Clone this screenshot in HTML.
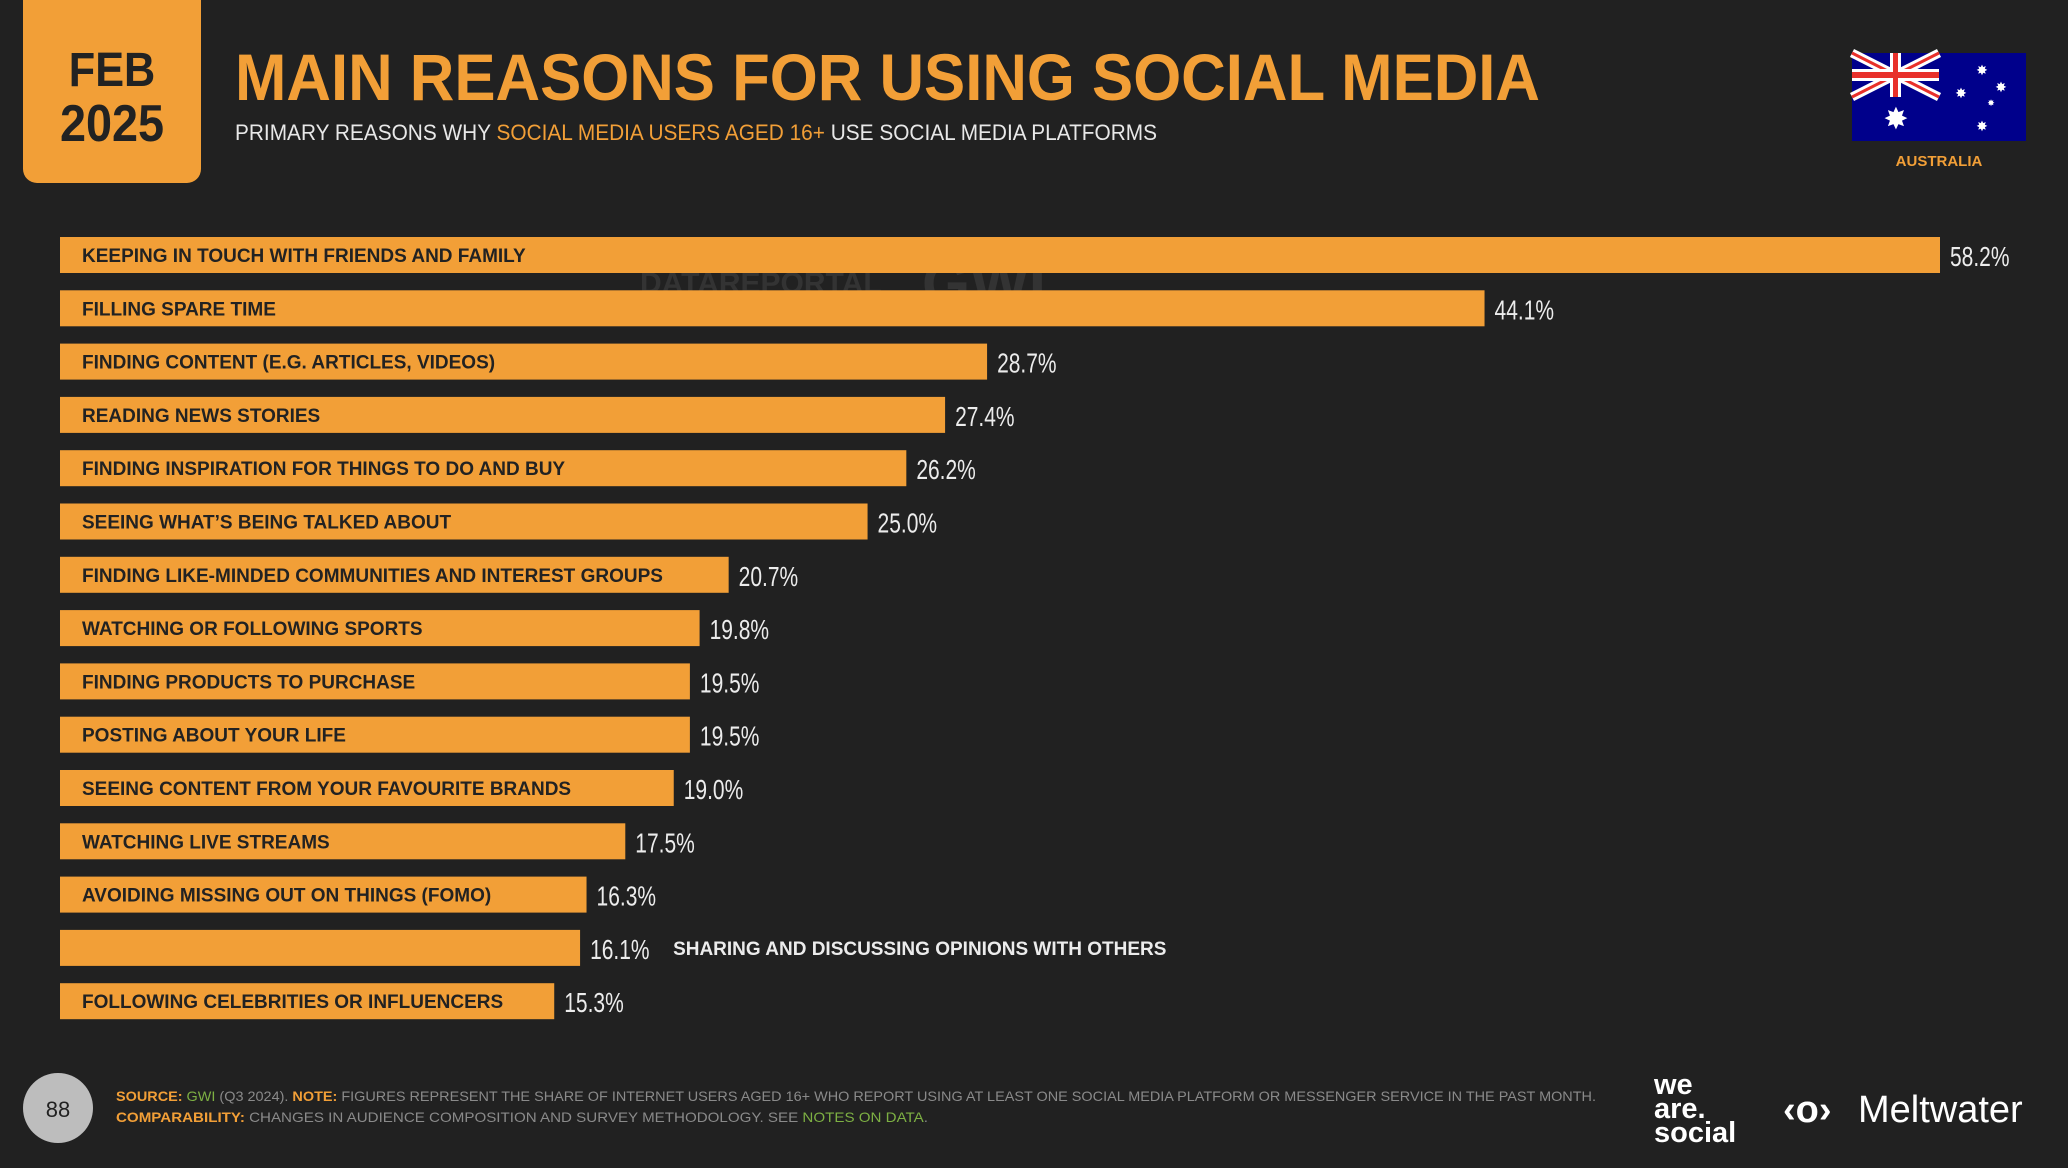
<!DOCTYPE html>
<html><head><meta charset="utf-8">
<style>
html,body{margin:0;padding:0;background:#212121;}
svg{display:block;}
text{font-family:"Liberation Sans",sans-serif;}
</style></head>
<body>
<svg id="chart" width="2068" height="1168" viewBox="0 0 2068 1168" xmlns="http://www.w3.org/2000/svg">
  <rect x="0" y="0" width="2068" height="1168" fill="#212121"/>
  <g>
    <rect x="23" y="-20" width="178" height="203" rx="14" fill="#F29F37"/>
    <text x="112" y="86" text-anchor="middle" font-size="48" font-weight="bold" fill="#222" transform="translate(112 0) scale(0.9 1) translate(-112 0)">FEB</text>
    <text x="112" y="141" text-anchor="middle" font-size="52" font-weight="bold" fill="#222" transform="translate(112 0) scale(0.9 1) translate(-112 0)">2025</text>
  </g>
  <text x="235" y="100" font-size="66" font-weight="bold" fill="#F29F37" textLength="1305" lengthAdjust="spacingAndGlyphs">MAIN REASONS FOR USING SOCIAL MEDIA</text>
  <text x="235" y="140" font-size="22" fill="#e8e8e8" textLength="922" lengthAdjust="spacingAndGlyphs">PRIMARY REASONS WHY <tspan fill="#F29F37">SOCIAL MEDIA USERS AGED 16+</tspan> USE SOCIAL MEDIA PLATFORMS</text>
  <g>
    <rect x="1852" y="53" width="174" height="88" fill="#00008B"/>
    <g>
      <rect x="1852" y="53" width="87" height="44" fill="#00008B"/>
      <line x1="1852" y1="53" x2="1939" y2="97" stroke="#fff" stroke-width="9"/>
      <line x1="1939" y1="53" x2="1852" y2="97" stroke="#fff" stroke-width="9"/>
      <line x1="1852" y1="53" x2="1939" y2="97" stroke="#E8302A" stroke-width="3"/>
      <line x1="1939" y1="53" x2="1852" y2="97" stroke="#E8302A" stroke-width="3"/>
      <rect x="1890" y="53" width="11" height="44" fill="#fff"/>
      <rect x="1852" y="69" width="87" height="12" fill="#fff"/>
      <rect x="1893" y="53" width="5" height="44" fill="#E8302A"/>
      <rect x="1852" y="72" width="87" height="6" fill="#E8302A"/>
    </g>
    <text x="1896" y="129" text-anchor="middle" font-size="30" fill="#fff">✸</text>
    <text x="1982" y="75" text-anchor="middle" font-size="14" fill="#fff">✸</text>
    <text x="2001" y="92" text-anchor="middle" font-size="14" fill="#fff">✸</text>
    <text x="1961" y="98" text-anchor="middle" font-size="14" fill="#fff">✸</text>
    <text x="1991" y="106" text-anchor="middle" font-size="9" fill="#fff">✸</text>
    <text x="1982" y="131" text-anchor="middle" font-size="14" fill="#fff">✸</text>
  </g>
  <text x="1939" y="166" text-anchor="middle" font-size="15" font-weight="bold" fill="#F29F37">AUSTRALIA</text>
  <g opacity="0.08">
    <text x="640" y="293" font-size="30" font-weight="bold" fill="#fff">DATAREPORTAL</text>
    <text x="922" y="305" font-size="62" font-weight="bold" fill="#fff">GWI.</text>
  </g>
  <g id="bars"></g>
  <g>
    <circle cx="58" cy="1108" r="35" fill="#bdbdbd"/>
    <text x="58" y="1117" text-anchor="middle" font-size="22" fill="#222">88</text>
    <text x="116" y="1101" font-size="14" fill="#8a8a8a" textLength="1480" lengthAdjust="spacingAndGlyphs"><tspan fill="#F29F37" font-weight="bold">SOURCE:</tspan> <tspan fill="#7DB043">GWI</tspan> (Q3 2024). <tspan fill="#F29F37" font-weight="bold">NOTE:</tspan> FIGURES REPRESENT THE SHARE OF INTERNET USERS AGED 16+ WHO REPORT USING AT LEAST ONE SOCIAL MEDIA PLATFORM OR MESSENGER SERVICE IN THE PAST MONTH.</text>
    <text x="116" y="1122" font-size="14" fill="#8a8a8a" textLength="812" lengthAdjust="spacingAndGlyphs"><tspan fill="#F29F37" font-weight="bold">COMPARABILITY:</tspan> CHANGES IN AUDIENCE COMPOSITION AND SURVEY METHODOLOGY. SEE <tspan fill="#7DB043">NOTES ON DATA</tspan>.</text>
    <g fill="#fff" font-weight="bold" font-size="29">
      <text x="1654" y="1094">we</text>
      <text x="1654" y="1118">are.</text>
      <text x="1654" y="1142">social</text>
    </g>
    <g>
      <text x="1783" y="1122" font-size="38" fill="#fff" font-weight="bold">‹o›</text>
      <text x="1858" y="1122" font-size="38" fill="#fff">Meltwater</text>
    </g>
  </g>
</svg>
<script>
const categories = ["KEEPING IN TOUCH WITH FRIENDS AND FAMILY","FILLING SPARE TIME","FINDING CONTENT (E.G. ARTICLES, VIDEOS)","READING NEWS STORIES","FINDING INSPIRATION FOR THINGS TO DO AND BUY","SEEING WHAT’S BEING TALKED ABOUT","FINDING LIKE-MINDED COMMUNITIES AND INTEREST GROUPS","WATCHING OR FOLLOWING SPORTS","FINDING PRODUCTS TO PURCHASE","POSTING ABOUT YOUR LIFE","SEEING CONTENT FROM YOUR FAVOURITE BRANDS","WATCHING LIVE STREAMS","AVOIDING MISSING OUT ON THINGS (FOMO)","SHARING AND DISCUSSING OPINIONS WITH OTHERS","FOLLOWING CELEBRITIES OR INFLUENCERS"];
const values = [58.2,44.1,28.7,27.4,26.2,25.0,20.7,19.8,19.5,19.5,19.0,17.5,16.3,16.1,15.3];
const valueLabels = ["58.2%","44.1%","28.7%","27.4%","26.2%","25.0%","20.7%","19.8%","19.5%","19.5%","19.0%","17.5%","16.3%","16.1%","15.3%"];
const NS="http://www.w3.org/2000/svg";
const x0=60, pxPer=1880/58.2;
function xScale(v){return x0+v*pxPer;}
function yScale(i){return 237+i*53.3;}
const g=document.getElementById('bars');
const labelScale=1.0;
categories.forEach((c,i)=>{
  const y=yScale(i), w=xScale(values[i])-x0;
  const r=document.createElementNS(NS,'rect');
  
  
  r.setAttribute('x',x0);r.setAttribute('y',y);r.setAttribute('width',w);r.setAttribute('height',36);r.setAttribute('fill','#F29F37');
  g.appendChild(r);
  const v=document.createElementNS(NS,'text');
  
  
  const vx=xScale(values[i])+10;
  v.setAttribute('x',vx);v.setAttribute('y',y+29);v.setAttribute('font-size','28');v.setAttribute('fill','#ececec');
  v.setAttribute('transform',`translate(${vx} 0) scale(0.75 1) translate(${-vx} 0)`);
  v.textContent=valueLabels[i];
  g.appendChild(v);
  const t=document.createElementNS(NS,'text');
  
  
  t.setAttribute('x',82);t.setAttribute('y',y+25);t.setAttribute('font-size','19');t.setAttribute('font-weight','bold');t.setAttribute('fill','#222');
  t.textContent=c;
  g.appendChild(t);
  const tw=t.getComputedTextLength()*labelScale;
  if(tw+40>w){
    const tx=xScale(values[i])+93;
    t.setAttribute('x',tx);
    t.setAttribute('fill','#ececec');
  }
});
</script>
</body></html>
